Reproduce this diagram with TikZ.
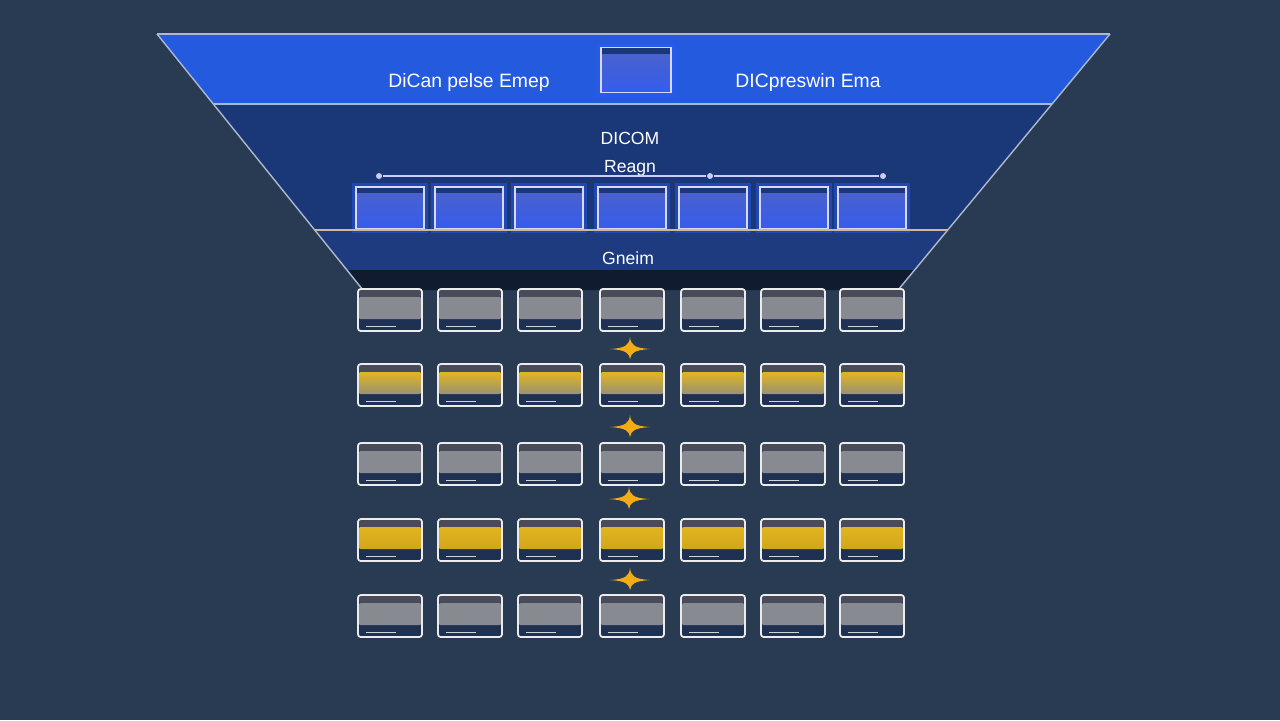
\documentclass[tikz,border=0pt]{standalone}
\usepackage{fontspec}
\setmainfont{Liberation Sans}
\usetikzlibrary{positioning}

\definecolor{bgslate}{RGB}{41,59,82}
\definecolor{topblue}{RGB}{36,90,222}
\definecolor{midnavy}{RGB}{26,56,120}
\definecolor{bandnavy}{RGB}{29,59,126}
\definecolor{shadow}{RGB}{16,27,48}
\definecolor{edgegray}{RGB}{172,184,206}
\definecolor{rimtan}{RGB}{205,185,150}
\definecolor{tileblue}{RGB}{78,98,200}
\definecolor{tilelow}{RGB}{52,92,238}
\definecolor{glowblue}{RGB}{40,92,255}
\definecolor{cellnavy}{RGB}{31,49,82}
\definecolor{celltop}{RGB}{72,76,90}
\definecolor{cellgray}{RGB}{136,138,146}
\definecolor{gold}{RGB}{226,180,30}
\definecolor{goldfade}{RGB}{152,146,118}
\definecolor{sparkgold}{RGB}{242,172,22}

\begin{document}
\begin{tikzpicture}[
x=0.01cm, y=-0.01cm,
label/.style={text=white, font=\fontsize{5}{6}\selectfont, inner sep=0pt},
tile/.style={draw=white!85!blue, line width=0.5pt, minimum width=0.68cm, minimum height=0.42cm, inner sep=0pt,
  preaction={draw=glowblue, line width=2.5pt, opacity=0.45},
  top color=tileblue, bottom color=tilelow,
  path picture={\fill[midnavy] (path picture bounding box.north west) rectangle ([yshift=-0.06cm]path picture bounding box.north east);}},
cell/.style={draw=white!85!gray, line width=0.5pt, rounded corners=0.8pt, fill=cellnavy, minimum width=0.64cm, minimum height=0.42cm, inner sep=0pt},
rail/.style={draw=white!80!blue, line width=0.4pt},
dot/.style={circle, fill=white!80!blue, inner sep=0.6pt},
sparkle/.pic={\fill[sparkgold] (-20,0) .. controls (-4,-1) and (-1,-4) .. (0,-12) .. controls (1,-4) and (4,-1) .. (20,0) .. controls (4,1) and (1,4) .. (0,10) .. controls (-1,4) and (-4,1) .. (-20,0) -- cycle;}
]
\fill[bgslate] (0,0) rectangle (1280,720);

% funnel
\fill[topblue] (157,34) -- (1110,34) -- (1052,104) -- (213,104) -- cycle;
\fill[midnavy] (213,104) -- (1052,104) -- (948,230) -- (315,230) -- cycle;
\fill[bandnavy] (315,230) -- (948,230) -- (915,270) -- (347,270) -- cycle;
\fill[shadow] (347,270) -- (915,270) -- (898,290) -- (363,290) -- cycle;
\draw[edgegray, line width=0.4pt] (157,34) -- (1110,34);
\draw[edgegray, line width=0.4pt] (213,104) -- (1052,104);
\draw[edgegray, line width=0.4pt] (157,34) -- (363,290);
\draw[edgegray, line width=0.4pt] (1110,34) -- (898,290);

% top band
\node[tile, minimum width=0.70cm, minimum height=0.45cm, preaction={}] (viewer) at (636,70) {};
\node[label, font=\fontsize{5.5}{6.5}\selectfont] (leftlabel) at (469,82) {DiCan pelse Emep};
\node[label, font=\fontsize{5.5}{6.5}\selectfont] (rightlabel) at (808,82) {DICpreswin Ema};

% middle part
\node[label] (dicom) at (630,138) {DICOM};
\node[label, below=0.15cm of dicom] (region) {Reagn};
\node[dot] (railL) at (379,176) {};
\node[dot] (railM) at (710,176) {};
\node[dot] (railR) at (883,176) {};
\draw[rail] (railL) -- (railM) -- (railR);

\foreach \c/\x in {1/390,2/469,3/549,4/632,5/713,6/794,7/872}
  \node[tile] (t\c) at (\x,208) {};

\draw[rimtan, line width=0.6pt] (315,230) -- (948,230);
\node[label] (band) at (628,258) {Gneim};

% grid of series
\foreach \r/\y/\ct/\cb in {1/310/cellgray/cellgray, 2/385/gold/goldfade, 3/464/cellgray/cellgray, 4/540/gold/gold!92!black, 5/616/cellgray/cellgray}
  \foreach \c/\x in {1/390,2/470,3/550,4/632,5/713,6/793,7/872}
    \node[cell, path picture={
      \fill[celltop] (path picture bounding box.north west) rectangle ([yshift=-0.08cm]path picture bounding box.north east);
      \shade[top color=\ct, bottom color=\cb] ([yshift=-0.08cm]path picture bounding box.north west) rectangle ([yshift=0.12cm]path picture bounding box.south east);
      \draw[white, line width=0.5pt, opacity=0.8] ([xshift=0.08cm, yshift=0.045cm]path picture bounding box.south west) -- ++(0.30cm,0);
    }] (g\r\c) at (\x,\y) {};

\pic (s1) at (630,349) {sparkle};
\pic (s2) at (630,427) {sparkle};
\pic (s3) at (629,499) {sparkle};
\pic (s4) at (630,580) {sparkle};
\end{tikzpicture}
\end{document}
